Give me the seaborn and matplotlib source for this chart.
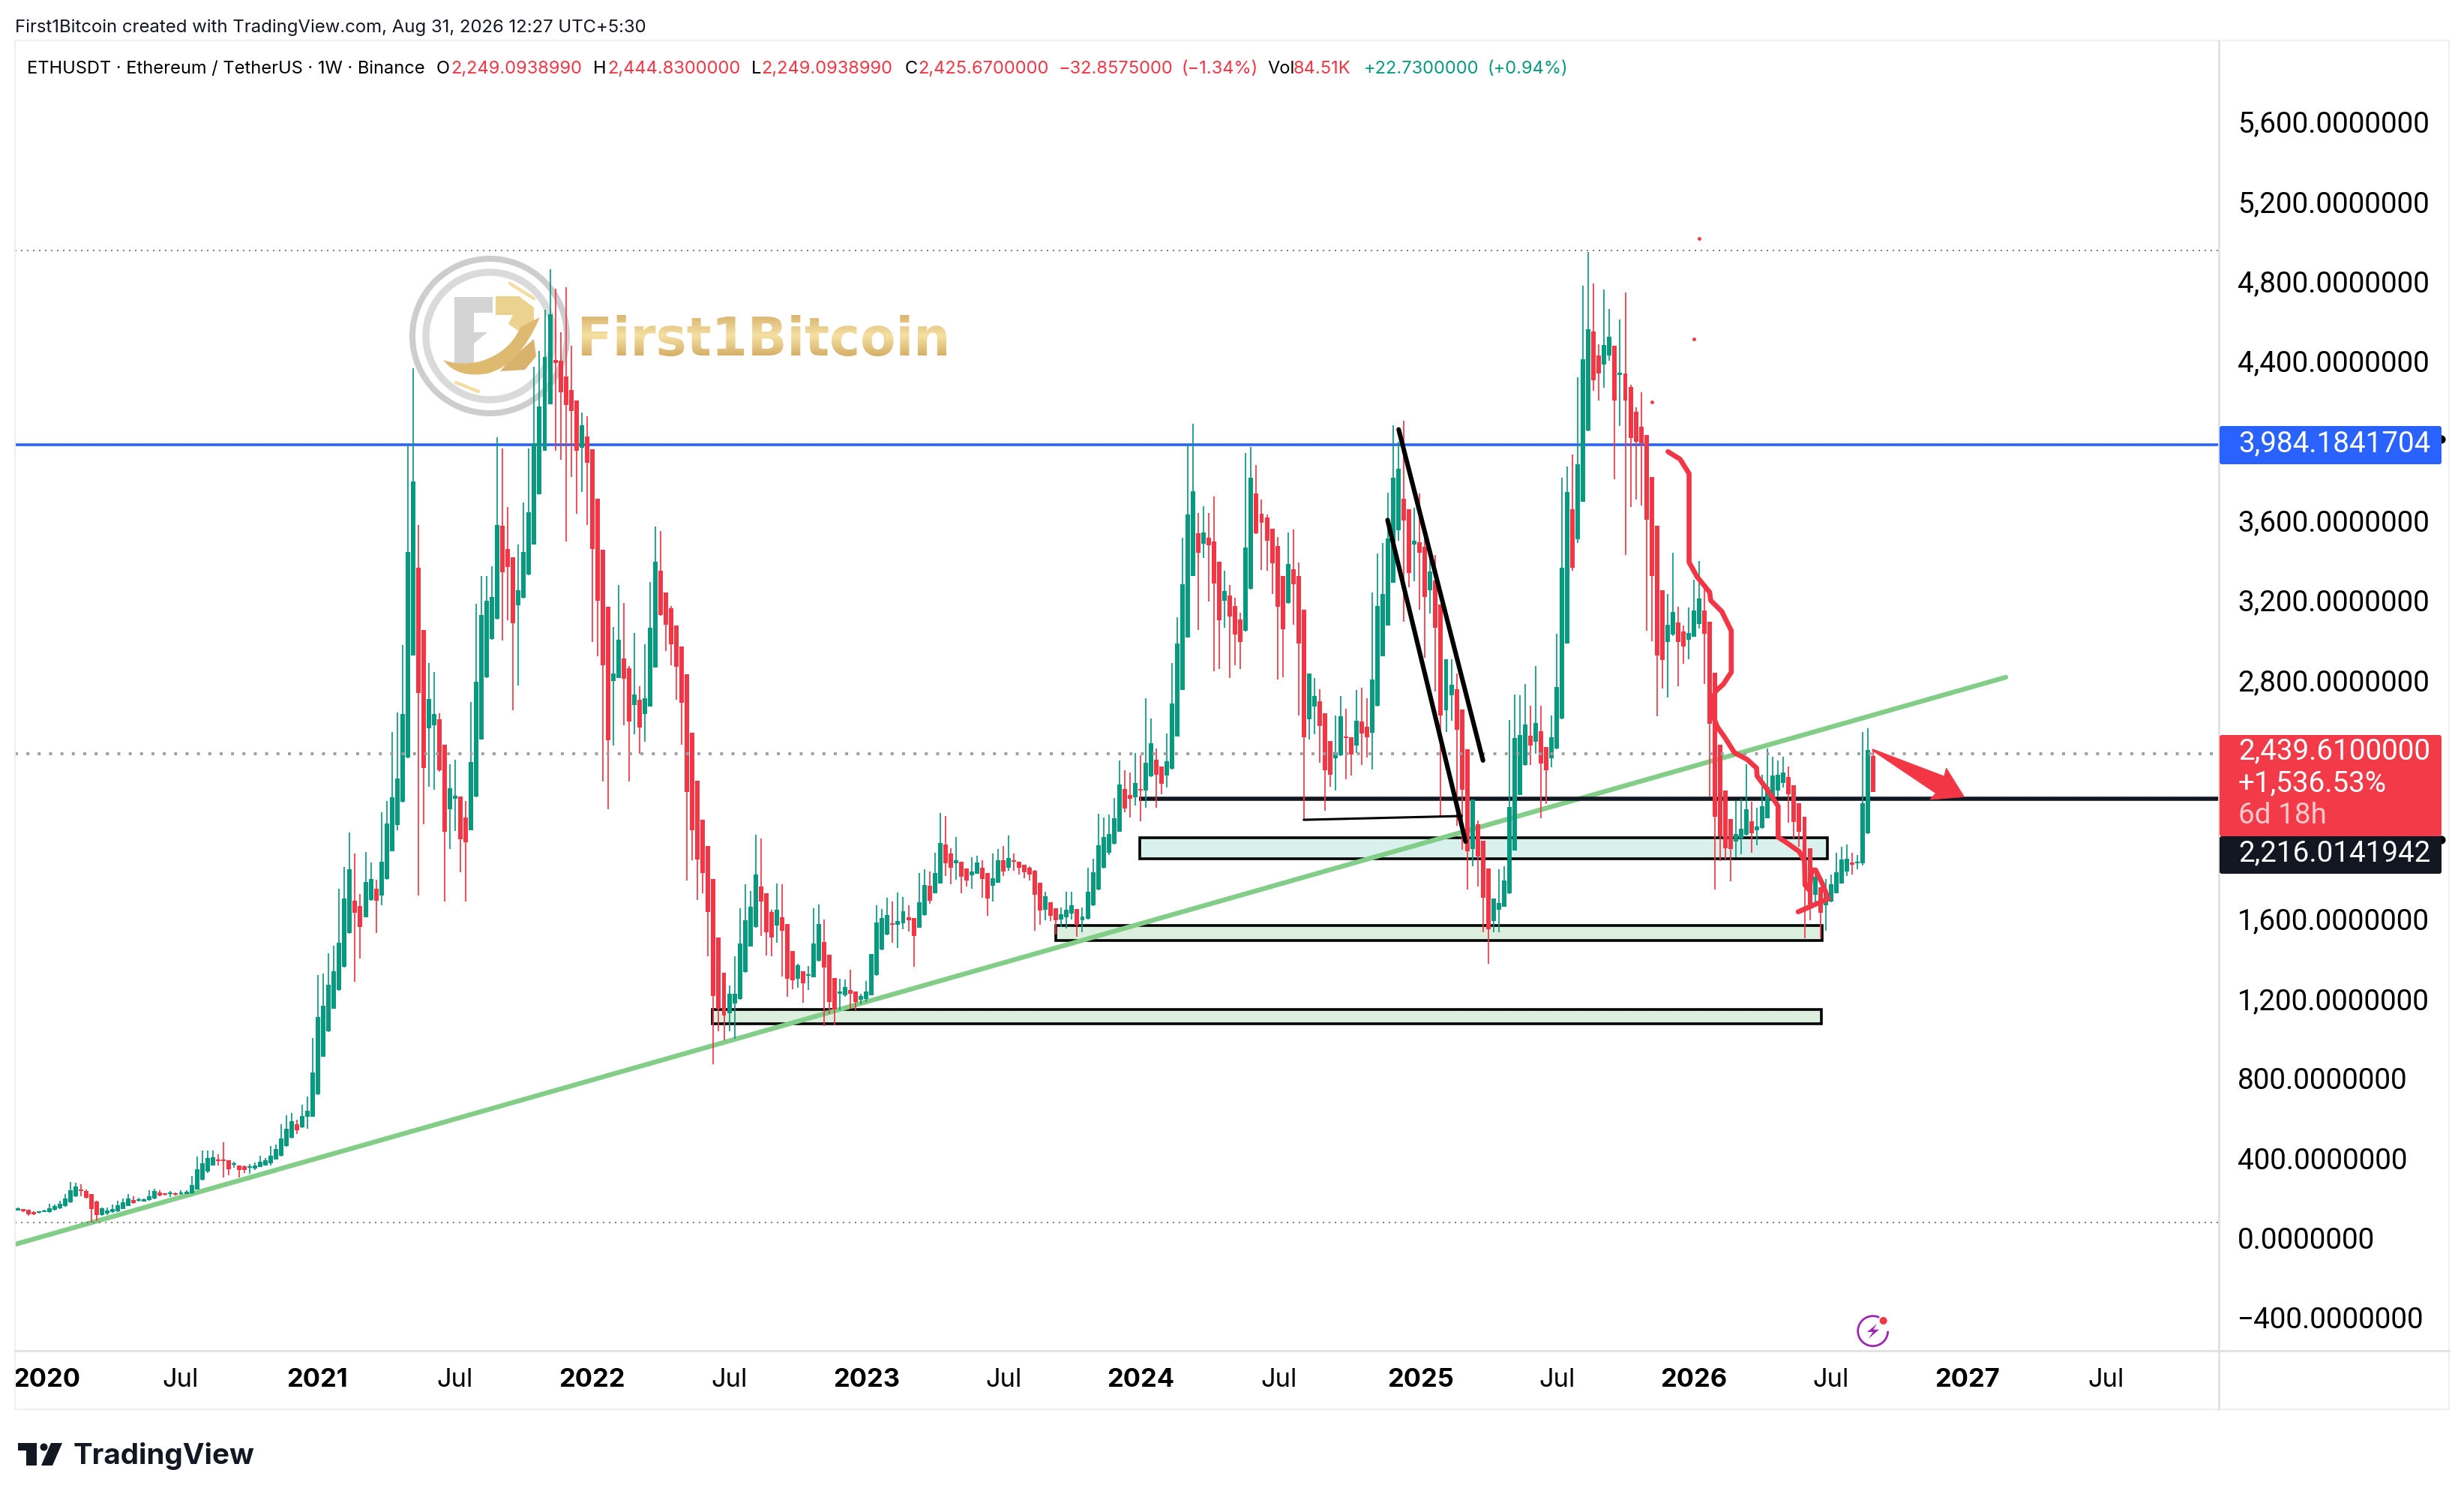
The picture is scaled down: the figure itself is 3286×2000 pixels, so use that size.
import matplotlib
matplotlib.use('Agg')
import matplotlib.pyplot as plt
import numpy as np
import pandas as pd
import seaborn as sns
from matplotlib.colors import LinearSegmentedColormap
from matplotlib.font_manager import FontProperties
from matplotlib.patches import Arc, Circle, FancyBboxPatch, PathPatch, Polygon, Rectangle
from matplotlib.path import Path
from matplotlib.textpath import TextPath
from matplotlib.transforms import Affine2D, Bbox

# weekly candles, first bar = Dec 2019
opens = [157,162,159,150,144,150,147,159,167,177,
         196,226,258,254,239,202,132,142,147,152,
         164,179,209,205,202,207,216,246,244,240,
         242,237,239,242,263,309,350,383,413,410,
         408,385,383,376,370,368,375,383,391,413,
         430,477,520,589,572,624,626,736,927,1053,
         1167,1259,1375,1544,1705,1679,1623,1709,1765,1731,
         1814,1953,2084,2200,2420,2932,3371,3059,2566,2581,
         2613,2486,2163,2217,2226,2122,2058,2226,2512,2822,
         3014,3115,3580,3464,3423,3184,3220,3335,3487,3739,
         3957,4189,4411,4407,4327,4260,4207,3970,4028,3963,
         3716,3462,3175,2803,2820,2917,2867,2684,2710,2639,
         2678,2872,3356,3246,3169,3083,2977,2837,2547,2305,
         2110,1979,1814,1520,1345,1144,1191,1214,1348,1477,
         1573,1775,1743,1648,1581,1623,1589,1453,1315,1352,
         1329,1323,1405,1498,1435,1318,1242,1234,1259,1250,
         1209,1215,1233,1334,1461,1536,1590,1584,1592,1624,
         1618,1572,1634,1780,1743,1792,1987,1942,1892,1900,
         1865,1833,1841,1870,1844,1780,1797,1906,1872,1906,
         1900,1884,1870,1855,1795,1660,1697,1668,1610,1623,
         1643,1663,1607,1615,1682,1761,1870,1945,1990,2051,
         2263,2234,2223,2263,2256,2326,2410,2375,2333,2365,
         2528,2761,3023,3331,3544,3490,3521,3502,3400,3207,
         3232,3180,3111,3054,3264,3743,3641,3622,3565,3479,
         3329,3193,3364,3329,3161,2614,2677,2703,2642,2504,
         2418,2432,2527,2523,2480,2602,2575,2546,2679,2929,
         3082,3297,3557,3716,3662,3488,3498,3475,3259,3306,
         3188,2656,2732,2763,2661,2462,1963,2087,2005,1867,
         1603,1662,1676,1741,1957,2235,2384,2529,2502,2552,
         2474,2416,2466,2616,2992,3664,3513,3702,4056,4552,
         4432,4387,4432,4482,4336,4343,4274,4150,4076,4035,
         3824,3580,3258,3000,3037,3097,3052,3011,3025,3088,
         3157,3102,2846,2485,2258,2114,2002,2016,2035,2102,
         2059,2069,2119,2203,2258,2293,2325,2284,2193,2126,
         1968,1736,1772,1681,1700,1743,1793,1851,1896,1892,
         1892,2042,2430]
highs = [170,165,160,152,150,160,189,185,204,237,
         299,296,286,262,240,205,172,170,185,205,
         215,237,229,220,218,258,266,258,240,254,
         245,258,256,330,425,455,455,455,438,497,
         408,400,383,383,390,395,430,420,477,485,
         589,631,644,611,684,728,1019,1334,1340,1443,
         1480,1765,1874,2046,1941,1739,1949,1896,1810,2148,
         2204,2549,2646,2984,3983,4368,3584,3059,2895,2850,
         2643,2486,2389,2409,2226,2204,2699,3190,3330,3330,
         3378,4024,3965,3675,3423,3487,3696,3965,4374,4454,
         4661,4863,4766,4547,4773,4482,4207,4146,4127,3963,
         3716,3462,3175,3074,3285,3195,2880,3044,2779,2988,
         3300,3578,3554,3246,3180,3083,2977,2837,2547,2305,
         2110,1979,1814,1520,1345,1281,1427,1668,1788,1754,
         2035,2016,1743,1660,1791,1788,1589,1453,1390,1352,
         1379,1668,1687,1610,1435,1318,1315,1310,1360,1250,
         1240,1304,1438,1682,1663,1719,1701,1746,1724,1682,
         1618,1844,1862,1851,1945,2144,2128,1968,2024,1900,
         1865,1923,1929,1906,1844,1942,1963,1979,2032,1942,
         1900,1884,1879,1859,1795,1750,1697,1668,1673,1752,
         1750,1663,1670,1870,1915,2139,2120,2136,2218,2407,
         2357,2346,2445,2431,2718,2617,2466,2375,2540,2893,
         3123,3519,3986,4091,3645,3678,3645,3727,3400,3356,
         3283,3220,3144,3944,3976,3884,3712,3637,3565,3523,
         3329,3548,3561,3398,3161,2841,2818,2763,2642,2504,
         2633,2728,2665,2523,2759,2770,2719,3245,3442,3494,
         3747,4084,4001,4106,3662,3672,3743,3523,3456,3433,
         3188,2912,2912,2841,2661,2462,2212,2106,2005,1867,
         1716,1863,1877,2610,2738,2734,2790,2680,2878,2680,
         2474,2633,3040,3822,3877,3937,4324,4781,4949,4793,
         4487,4762,4664,4482,4611,4748,4284,4174,4248,4035,
         3824,3580,3258,3241,3446,3176,3080,3171,3310,3403,
         3279,3102,2846,2485,2258,2114,2203,2215,2387,2200,
         2172,2334,2466,2425,2406,2425,2377,2284,2193,2126,
         1968,1856,1772,1815,1837,1947,1975,1987,1944,1935,
         2549,2569,2459]
lows = [155,150,129,135,142,148,145,157,165,175,
        194,224,228,215,98,103,130,135,145,150,
        162,177,190,200,200,205,214,228,232,224,
        230,235,237,240,260,305,345,380,380,320,
        333,370,321,345,340,360,372,380,383,410,
        428,475,518,537,570,565,624,734,925,1050,
        1165,1257,1373,1542,1300,1416,1621,1707,1544,1683,
        1812,1951,2059,2198,2418,2930,1733,2086,2275,2260,
        2350,1700,1963,2053,1849,1700,2056,2224,2510,2820,
        3012,3113,3007,3108,2656,2781,3218,3333,3485,3737,
        3955,4187,3955,3912,3503,3825,3642,3750,3584,3001,
        2928,2301,2163,2480,2820,2581,2301,2538,2441,2501,
        2676,2870,3130,2953,2882,2710,2486,1806,1909,1708,
        1743,1427,889,1051,1006,1054,1016,1212,1346,1475,
        1571,1528,1432,1427,1495,1327,1225,1261,1270,1195,
        1259,1321,1403,1079,1139,1083,1156,1225,1164,1156,
        1187,1198,1231,1332,1459,1534,1495,1469,1564,1551,
        1374,1570,1632,1690,1741,1790,1830,1788,1809,1743,
        1775,1764,1839,1719,1629,1701,1795,1828,1855,1855,
        1836,1817,1806,1556,1584,1607,1604,1537,1573,1567,
        1610,1525,1548,1613,1680,1759,1868,1934,1988,2049,
        2147,2120,2183,2102,2170,2324,2170,2237,2271,2363,
        2526,2759,3021,3329,3058,3421,3201,2853,2866,3069,
        2820,2882,2866,3050,3262,3540,3360,3356,3241,2811,
        2824,3191,3086,2633,2110,2512,2537,2397,2154,2275,
        2256,2430,2313,2332,2445,2384,2422,2361,2677,2927,
        3080,3295,3507,3102,3274,3303,3159,2920,3140,2751,
        2129,2550,2604,2081,1960,1760,1877,1775,1546,1392,
        1546,1546,1674,1739,1955,2233,2382,2384,2441,2116,
        2189,2374,2464,2614,2990,3356,3494,3700,4054,4255,
        4207,4272,4406,3812,4080,3434,3674,3710,3681,3057,
        3004,2626,2765,2722,3028,2779,2891,2913,3025,3068,
        2789,2227,1760,1904,1913,1803,1923,1937,2033,1944,
        1983,2067,2117,2201,2227,2270,2095,2016,1975,1516,
        1609,1676,1516,1557,1698,1741,1791,1828,1837,1863,
        1880,2040,2250]
closes = [167,152,137,137,150,157,167,177,190,216,
          258,276,254,221,162,132,167,157,164,181,
          197,216,194,210,214,229,253,233,236,242,
          234,244,251,283,363,393,420,422,402,403,
          363,388,360,360,375,383,400,408,430,463,
          517,567,602,559,629,656,847,1125,1180,1284,
          1353,1495,1716,1863,1646,1574,1799,1814,1705,1900,
          2091,2223,2316,2639,3449,3802,2745,2368,2714,2639,
          2357,2049,2269,2232,2013,1998,2400,2801,3134,3205,
          3225,3584,3347,3373,3094,3259,3449,3649,3993,4176,
          4424,4639,4396,4247,4185,4155,3955,4084,3897,3464,
          3205,2882,2506,2841,3012,2814,2603,2736,2572,2719,
          3070,3401,3134,3087,2988,2874,2697,2249,2058,1911,
          1844,1648,1228,1164,1131,1240,1240,1491,1607,1674,
          1836,1701,1547,1520,1660,1554,1315,1309,1382,1292,
          1332,1491,1589,1371,1198,1163,1245,1273,1240,1198,
          1228,1251,1438,1596,1618,1634,1586,1603,1652,1607,
          1528,1697,1783,1705,1844,1993,1892,1870,1906,1825,
          1806,1851,1897,1814,1716,1817,1907,1852,1918,1899,
          1870,1847,1836,1735,1657,1727,1631,1606,1637,1660,
          1682,1587,1626,1750,1847,1982,2024,2038,2117,2287,
          2167,2214,2293,2257,2396,2492,2335,2290,2402,2691,
          2991,3287,3637,3752,3446,3547,3484,3293,3109,3255,
          3125,3038,3000,3471,3821,3542,3595,3507,3394,3174,
          3063,3389,3287,2992,2522,2841,2728,2579,2359,2336,
          2447,2627,2520,2437,2606,2543,2524,2811,3180,3239,
          3517,3821,3865,3607,3345,3505,3446,3226,3350,3071,
          2631,2912,2786,2560,2259,1953,2212,1925,1720,1561,
          1716,1695,1806,2173,2520,2533,2585,2483,2594,2391,
          2359,2524,2774,3370,3750,3370,3889,4413,4564,4308,
          4343,4485,4525,4207,4341,4207,4021,4001,3992,3612,
          3329,2932,2911,3085,3150,3000,2978,3045,3157,3217,
          3040,2590,2126,2028,1968,1963,2040,2066,2164,2042,
          2076,2179,2277,2332,2334,2346,2238,2100,2052,1789,
          1688,1827,1645,1748,1789,1849,1911,1916,1884,1901,
          2193,2459,2250]

# axis labels
x_tick_pos = [5.5, 30.9, 56.8, 83, 109, 135, 161.1, 187.1, 213.1, 239.3, 266.2, 292, 318, 344, 369.9, 396.2]
x_tick_lab = ['2020', 'Jul', '2021', 'Jul', '2022', 'Jul', '2023', 'Jul', '2024', 'Jul', '2025', 'Jul', '2026', 'Jul', '2027', 'Jul']
y_ticks = [5600, 5200, 4800, 4400, 3600, 3200, 2800, 1600, 1200, 800, 400, 0, -400]

# drawings on the chart, in bar / price units
blue_level = 3984.18
black_level = 2216.01
last_price = 2439.61
high_level = 4956
low_level = 98
trend_x = [-0.5, 377.2]
trend_y = [-13, 2823]
zones = [(212.9, 343.3, 1915, 2020, '#d8f1ec'),
         (196.9, 342.3, 1506, 1582, '#dceedd'),
         (131.8, 342.2, 1091, 1163, '#dceedd')]
wedge_a_x = [262.0, 278.0]
wedge_a_y = [4062, 2407]
wedge_b_x = [259.9, 274.7]
wedge_b_y = [3609, 2001]
base_x = [244.0, 274.0]
base_y = [2110, 2129]
red_x = [313.1, 315.4, 317.1, 317.1, 318.6, 321.0, 321.2, 323.3, 325.1, 325.1, 323.6, 322.1, 321.4, 321.4, 322.5,
         323.8, 325.7, 328.1, 329.9, 330.0, 331.9, 334.0, 334.0, 335.7, 338.0, 339.0, 339.1, 339.9, 340.4, 341.1,
         342.5, 343.5, 337.8]
red_y = [3951, 3913, 3841, 3398, 3326, 3248, 3207, 3152, 3056, 2848, 2788, 2752, 2692, 2645, 2573,
         2525, 2446, 2412, 2369, 2329, 2262, 2178, 2023, 1994, 1951, 1903, 1784, 1759, 1859, 1859,
         1784, 1715, 1650]
arrow_x = [351.9, 365.5, 365.9, 369.3, 362.8, 363.9, 351.9]
arrow_y = [2464, 2328, 2369, 2225, 2211, 2243, 2456]
speck_x = [319.0, 318.0, 310.0]
speck_y = [5017, 4515, 4200]

header = [(36, 'ETHUSDT · Ethereum / TetherUS · 1W · Binance', 'k'),
          (582, 'O', 'k'), (601, '2,249.0938990', 'r'),
          (791, 'H', 'k'), (810, '2,444.8300000', 'r'),
          (1002, 'L', 'k'), (1015, '2,249.0938990', 'r'),
          (1207, 'C', 'k'), (1224, '2,425.6700000', 'r'),
          (1412, '−32.8575000', 'r'), (1575, '(−1.34%)', 'r'),
          (1690, 'Vol', 'k'), (1725, '84.51K', 'r'),
          (1819, '+22.7300000', 'g'), (1983, '(+0.94%)', 'g')]

GREEN = '#089981'
RED = '#f23645'
BLUE = '#2962ff'
INK = '#131722'

sns.set_theme(style='white')
plt.rcParams['font.family'] = ['Inter', 'DejaVu Sans']

df = pd.DataFrame({'open': opens, 'high': highs, 'low': lows, 'close': closes})
df['bar'] = np.arange(len(df))
df['colour'] = np.where(df['close'] >= df['open'], GREEN, RED)

W, H = 3286, 2000
fig = plt.figure(figsize=(W / 200, H / 200), dpi=200, facecolor='white')


def pixel_axes(z):
    a = fig.add_axes([0, 0, 1, 1], zorder=z)
    a.set_xlim(0, W)
    a.set_ylim(H, 0)
    a.axis('off')
    return a


under = pixel_axes(0)
ax = fig.add_axes([20 / W, 1 - 1801 / H, (2959 - 20) / W, (1801 - 54) / H], zorder=1)
ax.patch.set_alpha(0)
over = pixel_axes(2)

ax.set_xlim(-0.51, 417.6)
ax.set_ylim(-545, 6007)

# zones sit under the candles
for x0, x1, y0, y1, fill in zones:
    ax.add_patch(Rectangle((x0, y0), x1 - x0, y1 - y0, fc=fill, ec='black', lw=1.3, zorder=1))

sns.lineplot(x=trend_x, y=trend_y, ax=ax, color='#82cd87', lw=2.3, solid_capstyle='round', zorder=2, legend=False)
ax.axhline(blue_level, color=BLUE, lw=1.3, zorder=2)
ax.hlines(black_level, 212.7, 417.6, color=INK, lw=2.0, zorder=2)
ax.axhline(high_level, color='#666666', lw=0.6, ls=(0, (1.2, 3.6)), zorder=2)
ax.axhline(low_level, color='#666666', lw=0.6, ls=(0, (1.2, 3.6)), zorder=2)

# candles
ax.vlines(df['bar'], df['low'], df['high'], colors=df['colour'], lw=0.62, zorder=3)
ax.bar(df['bar'], (df['close'] - df['open']).abs().clip(lower=8), bottom=df[['open', 'close']].min(axis=1),
       width=0.85, color=df['colour'], lw=0, zorder=4)

ax.axhline(last_price, color='#9e9e9e', lw=1.4, ls=(0, (1, 2.9)), zorder=5)

# hand drawings on top
for xs, ys, lw in [(wedge_a_x, wedge_a_y, 2.2), (wedge_b_x, wedge_b_y, 2.2), (base_x, base_y, 1.1)]:
    sns.lineplot(x=xs, y=ys, ax=ax, color='black', lw=lw, solid_capstyle='round', zorder=6, legend=False)
ax.plot(red_x, red_y, color=RED, lw=2.4, solid_capstyle='round', solid_joinstyle='round', zorder=7)
ax.add_patch(Polygon(np.column_stack([arrow_x, arrow_y]), closed=True, fc=RED, ec=RED, lw=0.3, zorder=7))
sns.scatterplot(x=speck_x, y=speck_y, ax=ax, color=RED, s=3, linewidth=0, zorder=7, legend=False)

# axes text; the picture's price scale sits slightly off the one the candles were read with
ax.yaxis.tick_right()
ax.set_yticks([20 + 0.9966 * v for v in y_ticks])
ax.set_yticklabels([f'{v:,.7f}'.replace('-', '−') for v in y_ticks], family='Roboto')
ax.tick_params(axis='y', length=0, pad=9.0, labelsize=13.9, colors='#000000')
plt.setp(ax.get_yticklabels(), ha='left')
ax.set_xticks(x_tick_pos)
ax.set_xticklabels(x_tick_lab)
ax.tick_params(axis='x', length=0, pad=8.4, labelsize=12.4, colors='#000000')
for t in ax.get_xticklabels():
    if t.get_text() != 'Jul':
        t.set_fontweight('bold')
    t.set_clip_on(True)
    t.set_clip_box(Bbox([[20, 0], [W, H]]))
sns.despine(ax=ax, left=True, right=True, top=True, bottom=True)

# frame of the screenshot
over.add_patch(Rectangle((20, 54), 3246, 1825, fc='none', ec='#f0f0f0', lw=0.8))
over.plot([2959, 2959], [54, 1879], color='#e0e0e0', lw=1.0)
over.plot([20, 3266], [1801, 1801], color='#e0e0e0', lw=1.0)

over.text(20, 37, 'First1Bitcoin created with TradingView.com, Aug 31, 2026 12:27 UTC+5:30',
          fontsize=8.6, va='center', color='#131722')
hue = {'k': '#000000', 'r': RED, 'g': GREEN}
for x, s, c in header:
    over.text(x, 92, s, fontsize=8.5, va='center', color=hue[c])

# price tags on the scale
over.add_patch(Circle((3256, 586), 7, fc='black', zorder=1))
over.add_patch(Circle((3256, 1120), 7, fc='black', zorder=1))
for y0, y1, c in [(568, 619, BLUE), (980, 1115, '#f23a48'), (1115, 1165, INK)]:
    over.add_patch(FancyBboxPatch((2960, y0), 296, y1 - y0, boxstyle='round,pad=0,rounding_size=3', fc=c, ec='none', zorder=2))
for y, s, c in [(592, '3,984.1841704', 'white'), (1002, '2,439.6100000', 'white'), (1045, '+1,536.53%', 'white'),
                (1087, '6d 18h', '#fbc8cc'), (1138, '2,216.0141942', 'white')]:
    over.text(2985, y, s, fontsize=13.9, family='Roboto', va='center', color=c, zorder=3)

# watermark behind the candles
under.add_patch(Circle((653, 448), 103, fc='none', ec='#cdcdcd', lw=2.9))
under.add_patch(Circle((653, 448), 85, fc='none', ec='#dadada', lw=3.4))
under.add_patch(Polygon([(606, 396), (657, 396), (657, 417), (632, 417), (632, 443), (650, 443), (632, 458), (632, 485), (606, 485)],
                        fc='#d4d4d4', ec='none'))
under.add_patch(Polygon([(661, 395), (692, 395), (712, 410), (712, 435), (697, 446), (690, 440), (678, 432), (684, 420), (661, 420)],
                        fc='#ecd28f', ec='none'))
under.add_patch(Polygon([(667, 495), (700, 493), (715, 475), (712, 452), (680, 480)], fc='#d9b36c', ec='none'))
swoosh = Path([(591, 480), (610, 505), (650, 498), (692, 488), (720, 423), (694, 436), (680, 470), (640, 482), (612, 488), (591, 480)],
              [Path.MOVETO, Path.CURVE3, Path.CURVE3, Path.CURVE3, Path.CURVE3, Path.LINETO, Path.CURVE3, Path.CURVE3, Path.CURVE3, Path.CURVE3])
under.add_patch(PathPatch(swoosh, fc='#deb970', ec='none'))
under.plot([680, 712], [378, 398], color='#f3dda0', lw=1.6)
under.plot([608, 638], [510, 522], color='#f3dda0', lw=1.6)

word = TextPath((0, 0), 'First1Bitcoin', size=100, prop=FontProperties(family='DejaVu Sans', weight='bold'))
b = word.get_extents()
fit = Affine2D().translate(-b.x0, -b.y0).scale(486 / b.width, -55 / b.height).translate(776, 475)
word_patch = PathPatch(word.transformed(fit), fc='none', ec='none', transform=under.transData)
under.add_patch(word_patch)
gold = LinearSegmentedColormap.from_list('gold', ['#d9b56f', '#f5e0a3', '#d6ae66'])
img = under.imshow(np.linspace(0, 1, 64).reshape(-1, 1), cmap=gold, extent=[772, 1272, 475, 420], aspect='auto', zorder=1)
img.set_clip_path(word_patch)
under.set_xlim(0, W)
under.set_ylim(H, 0)

# lightning badge
over.add_patch(Arc((2497.7, 1774.7), 40, 40, theta1=0, theta2=295, color='#9c27b0', lw=1.0))
over.add_patch(Polygon([(2503.3, 1765), (2490, 1776), (2497.7, 1776), (2491.7, 1785), (2506, 1772.7), (2498.3, 1772.7)], fc='#9c27b0', ec='none'))
over.add_patch(Circle((2511.7, 1761), 5, fc=RED, ec='none'))

# TradingView logo
over.add_patch(Polygon([(24, 1924), (49, 1924), (49, 1954), (35, 1954), (35, 1934), (24, 1934)], fc='#131722', ec='none'))
over.add_patch(Circle((58.5, 1929.5), 5, fc='#131722', ec='none'))
over.add_patch(Polygon([(83, 1924), (70, 1954), (55, 1954), (68, 1924)], fc='#131722', ec='none'))
over.text(98, 1942, 'TradingView', fontsize=13.9, fontweight='bold', va='center', color='#131722')

fig.savefig('out.png', dpi=200, facecolor='white')
